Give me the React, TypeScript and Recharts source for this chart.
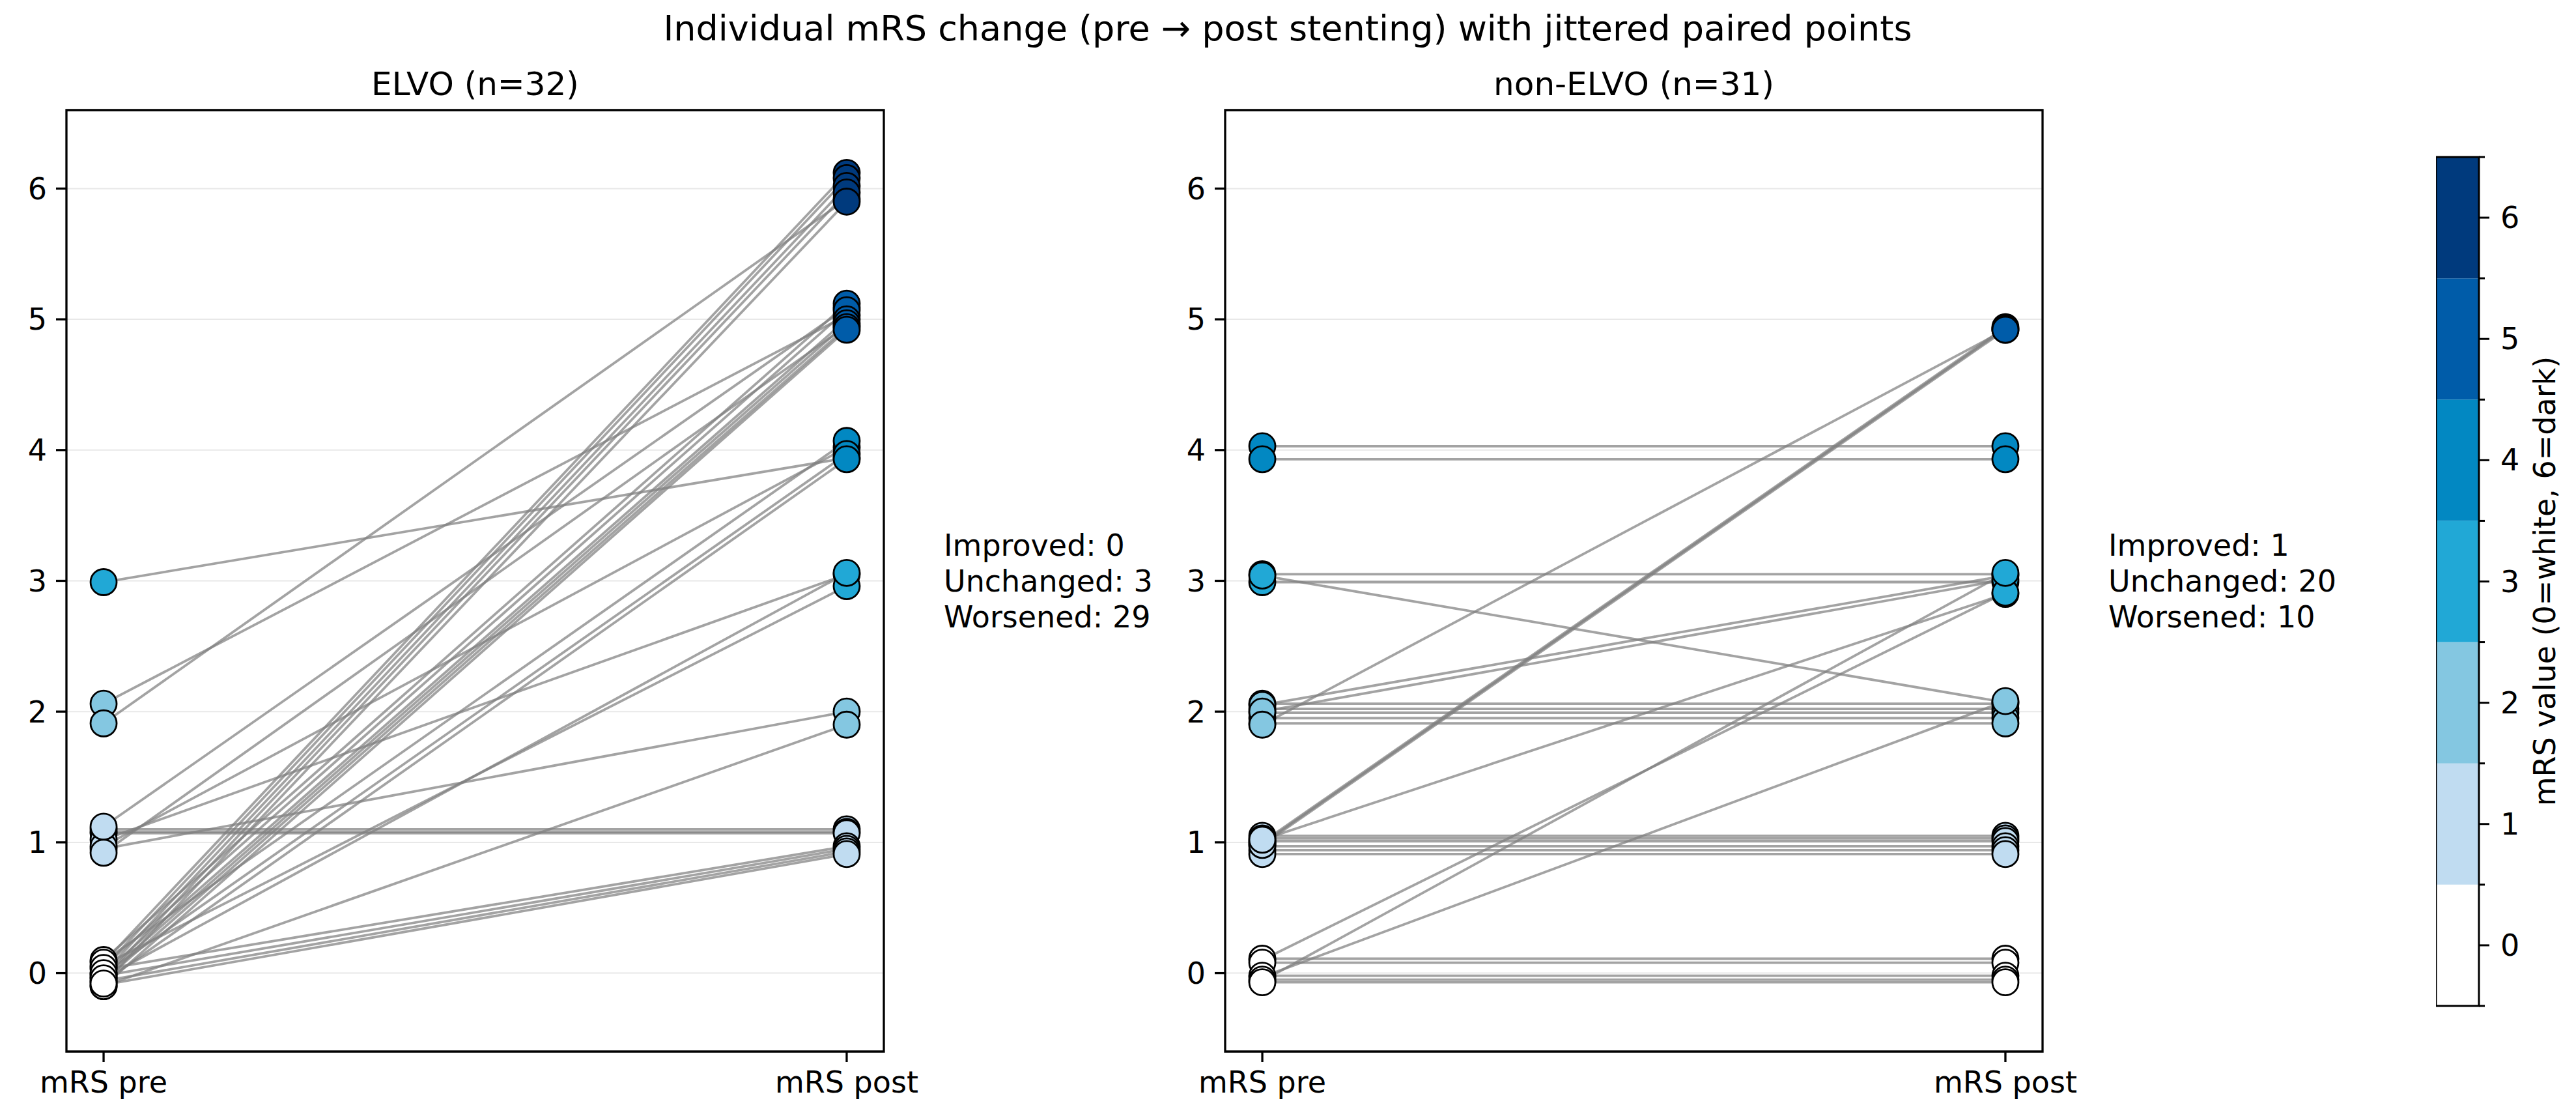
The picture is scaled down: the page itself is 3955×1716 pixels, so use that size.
import React from "react";
import { CartesianGrid, ReferenceArea, Scatter, ScatterChart, XAxis, YAxis } from "recharts";

const FONT = "'DejaVu Sans', sans-serif";

// mRS colours 0..6 (white -> dark blue)
const MRS_COLORS = ["#ffffff", "#c0dcf1", "#84c7e1", "#21a8d6", "#0288c2", "#005ca9", "#003a7d"];
const MRS_TICKS = [0, 1, 2, 3, 4, 5, 6];
const CB_TICKS = [-0.5, 0, 0.5, 1, 1.5, 2, 2.5, 3, 3.5, 4, 4.5, 5, 5.5, 6, 6.5];
const X_LABELS = ["mRS pre", "mRS post"];

// ELVO (n=32)
const elvoPre = [3, 2, 2, 1, 1, 1, 1, 1, 1, 1, 1, 0, 0, 0, 0, 0, 0, 0, 0, 0, 0, 0, 0, 0, 0, 0, 0, 0, 0, 0, 0, 0];
const elvoPost = [4, 5, 6, 1, 1, 1, 2, 3, 4, 5, 5, 1, 1, 1, 1, 2, 3, 3, 4, 4, 4, 5, 5, 5, 5, 5, 5, 6, 6, 6, 6, 6];
const elvoJitPre = [
  -0.01, 0.06, -0.09, 0.1, 0.08, 0.07, -0.05, 0.02, -0.03, 0.12, -0.08,
  0.03, -0.02, -0.06, -0.09, -0.1, 0.06, -0.04, 0.09, -0.01, -0.07,
  0.1, 0.05, 0.0, -0.03, -0.06, -0.1, 0.08, 0.04, 0.0, -0.04, -0.08,
];
const elvoJitPost = [
  -0.06, 0.03, -0.08, 0.1, 0.08, 0.07, 0.0, 0.05, 0.02, 0.09, -0.05,
  -0.03, -0.05, -0.07, -0.09, -0.1, -0.04, 0.06, 0.07, -0.03, -0.07,
  0.12, 0.07, 0.0, -0.03, -0.06, -0.08, 0.12, 0.08, 0.02, -0.03, -0.1,
];

// non-ELVO (n=31)
const nonPre = [4, 4, 3, 3, 3, 2, 2, 2, 2, 2, 2, 2, 2, 1, 1, 1, 1, 1, 1, 1, 1, 1, 1, 0, 0, 0, 0, 0, 0, 0, 0];
const nonPost = [4, 4, 3, 3, 2, 2, 2, 2, 2, 2, 3, 3, 5, 1, 1, 1, 1, 1, 1, 5, 5, 5, 3, 3, 3, 2, 0, 0, 0, 0, 0];
const nonJitPre = [
  0.03, -0.07, 0.05, -0.01, 0.04, 0.06, 0.02, -0.01, -0.05, -0.09, 0.05, 0.0, -0.1,
  0.05, 0.03, 0.01, -0.03, -0.06, -0.09, 0.0, -0.01, -0.02, 0.02,
  0.1, -0.06, -0.03, 0.11, 0.08, -0.02, -0.05, -0.07,
];
const nonJitPost = [
  0.03, -0.07, 0.05, -0.01, 0.07, 0.06, 0.02, -0.01, -0.05, -0.09, 0.04, 0.01, -0.08,
  0.05, 0.03, 0.01, -0.03, -0.06, -0.09, -0.06, -0.07, -0.08, -0.1,
  -0.09, 0.06, 0.08, 0.11, 0.08, -0.02, -0.05, -0.07,
];

function countChanges(pre: number[], post: number[]) {
  let improved = 0;
  let unchanged = 0;
  let worsened = 0;
  pre.forEach((p, i) => {
    if (post[i] < p) improved++;
    else if (post[i] === p) unchanged++;
    else worsened++;
  });
  return { improved, unchanged, worsened };
}

const MrsDot = (props: any) => {
  const { cx, cy, payload } = props;
  return (
    <circle cx={cx} cy={cy} r={20} fill={MRS_COLORS[payload.v]} stroke="#000" strokeWidth={2.8} />
  );
};

const NoDot = () => <g />;

const axisTick = { fill: "#000", fontSize: 46, fontFamily: FONT };
const tickLine = { stroke: "#000", strokeWidth: 3.3 };

function Panel({
  pre,
  post,
  jitPre,
  jitPost,
  left,
}: {
  pre: number[];
  post: number[];
  jitPre: number[];
  jitPost: number[];
  left: number;
}) {
  const pairs = pre.map((p, i) => [
    { x: 0, y: p + jitPre[i], v: p },
    { x: 1, y: post[i] + jitPost[i], v: post[i] },
  ]);
  const points = [...pairs.map((d) => d[0]), ...pairs.map((d) => d[1])];

  return (
    <div style={{ position: "absolute", left, top: 0 }}>
      <ScatterChart width={1520} height={1716} margin={{ top: 169, right: 165, bottom: 42, left: 20 }}>
        <CartesianGrid vertical={false} stroke="#e8e8e8" strokeWidth={2} />
        <XAxis
          type="number"
          dataKey="x"
          domain={[-0.05, 1.05]}
          ticks={[0, 1]}
          interval={0}
          tickFormatter={(v: number) => X_LABELS[v]}
          height={60}
          tickSize={16}
          tickMargin={14}
          axisLine={false}
          tickLine={tickLine}
          tick={axisTick}
        />
        <YAxis
          type="number"
          dataKey="y"
          domain={[-0.6, 6.6]}
          ticks={MRS_TICKS}
          interval={0}
          width={80}
          tickSize={16}
          tickMargin={14}
          axisLine={false}
          tickLine={tickLine}
          tick={axisTick}
        />
        {pairs.map((d, i) => (
          <Scatter
            key={i}
            data={d}
            line={{ stroke: "#7f7f7f", strokeWidth: 3.8, strokeOpacity: 0.72 }}
            shape={NoDot}
            isAnimationActive={false}
          />
        ))}
        <Scatter data={points} shape={MrsDot} isAnimationActive={false} />
        <ReferenceArea
          x1={-0.05}
          x2={1.05}
          y1={-0.6}
          y2={6.6}
          fill="none"
          stroke="#000"
          strokeWidth={3.3}
          ifOverflow="visible"
        />
      </ScatterChart>
    </div>
  );
}

const ColorbarTick = (props: any) => {
  const { x, y, payload } = props;
  const v = payload.value;
  const major = Number.isInteger(v);
  return (
    <g>
      <line x1={x} y1={y} x2={x + (major ? 16 : 9)} y2={y} stroke="#000" strokeWidth={3} />
      {major && (
        <text x={x + 33} y={y} fontSize={46} fontFamily={FONT} fill="#000" dominantBaseline="central">
          {v}
        </text>
      )}
    </g>
  );
};

function Colorbar() {
  const dummy = MRS_TICKS.map((v) => ({ x: 0.5, y: v }));
  return (
    <div style={{ position: "absolute", left: 3740, top: 0 }}>
      <ScatterChart width={160} height={1716} margin={{ top: 241, right: 0, bottom: 172, left: 0 }}>
        <XAxis type="number" dataKey="x" domain={[0, 1]} hide />
        <YAxis
          type="number"
          dataKey="y"
          orientation="right"
          domain={[-0.5, 6.5]}
          ticks={CB_TICKS}
          interval={0}
          width={94}
          tickSize={0}
          tickMargin={0}
          axisLine={false}
          tickLine={false}
          tick={ColorbarTick}
        />
        <Scatter data={dummy} shape={NoDot} isAnimationActive={false} />
        {MRS_TICKS.map((v) => (
          <ReferenceArea
            key={v}
            x1={0}
            x2={1}
            y1={v - 0.5}
            y2={v + 0.5}
            fill={MRS_COLORS[v]}
            fillOpacity={1}
            stroke="none"
          />
        ))}
        <ReferenceArea x1={0} x2={1} y1={-0.5} y2={6.5} fill="none" stroke="#000" strokeWidth={3} />
      </ScatterChart>
    </div>
  );
}

function Summary({ x, pre, post }: { x: number; pre: number[]; post: number[] }) {
  const c = countChanges(pre, post);
  const lines = [`Improved: ${c.improved}`, `Unchanged: ${c.unchanged}`, `Worsened: ${c.worsened}`];
  return (
    <text x={x} y={853} fontSize={46} fontFamily={FONT} fill="#000">
      {lines.map((t, i) => (
        <tspan key={i} x={x} dy={i === 0 ? 0 : 55}>
          {t}
        </tspan>
      ))}
    </text>
  );
}

export default function App() {
  return (
    <div style={{ position: "absolute", left: 0, top: 0, width: 3955, height: 1716, background: "#fff" }}>
      <Panel pre={elvoPre} post={elvoPost} jitPre={elvoJitPre} jitPost={elvoJitPost} left={2} />
      <Panel pre={nonPre} post={nonPost} jitPre={nonJitPre} jitPost={nonJitPost} left={1781} />
      <Colorbar />
      <svg
        width={3955}
        height={1716}
        style={{ position: "absolute", left: 0, top: 0, pointerEvents: "none" }}
      >
        <text x={1977} y={62} fontSize={54} fontFamily={FONT} textAnchor="middle" fill="#000">
          Individual mRS change (pre → post stenting) with jittered paired points
        </text>
        <text x={729.5} y={146} fontSize={50} fontFamily={FONT} textAnchor="middle" fill="#000">
          ELVO (n={elvoPre.length})
        </text>
        <text x={2508.5} y={146} fontSize={50} fontFamily={FONT} textAnchor="middle" fill="#000">
          non-ELVO (n={nonPre.length})
        </text>
        <Summary x={1449} pre={elvoPre} post={elvoPost} />
        <Summary x={3237} pre={nonPre} post={nonPost} />
        <text
          x={3907}
          y={892}
          fontSize={46}
          fontFamily={FONT}
          textAnchor="middle"
          dominantBaseline="central"
          fill="#000"
          transform="rotate(-90 3907 892)"
        >
          mRS value (0=white, 6=dark)
        </text>
      </svg>
    </div>
  );
}
